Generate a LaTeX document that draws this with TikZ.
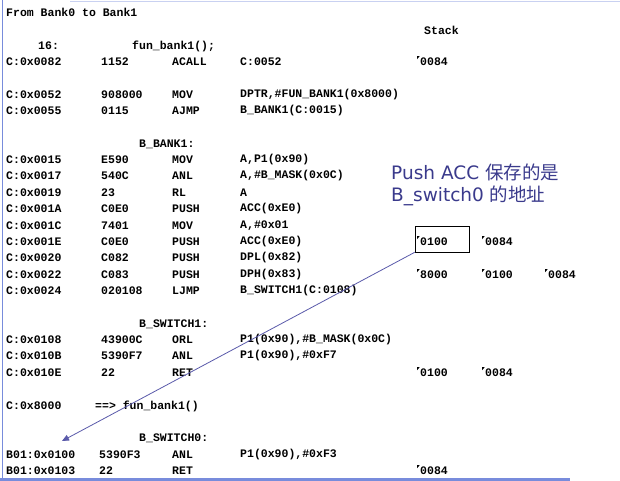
\documentclass[tikz,border=0pt]{standalone}
\usepackage{fontspec}
\setmonofont{Liberation Mono}
\newfontfamily\blufont{DejaVu Sans}
\newfontfamily\cjk{Noto Sans CJK SC}
\usetikzlibrary{arrows.meta}
\definecolor{notec}{RGB}{58,58,140}
\definecolor{arrc}{RGB}{90,90,170}
\definecolor{edge}{RGB}{120,140,220}
\tikzset{code/.style={anchor=west,inner sep=0pt,font=\ttfamily\bfseries\fontsize{11.5}{12}\selectfont},
 stk/.style={code,label={[inner sep=0pt,anchor=north west,xshift=-3pt,yshift=2pt]north west:{\tikz\fill (0,0)--(2.5pt,0)--(0,-3pt)--cycle;}}},
 note/.style={anchor=west,inner sep=0pt,text=notec,font=\blufont\fontsize{18.5}{21}\selectfont}}
\newcommand\crow[5]{\node[code] at (6,#1) {#2}; \node[code] at (101,#1) {#3}; \node[code] at (172,#1) {#4}; \node[code] at (240,#1) {#5};}
\begin{document}
\begin{tikzpicture}[x=1pt,y=-1pt]
\useasboundingbox (0,0) rectangle (620,481);
\fill[white] (0,0) rectangle (620,481);
\draw[edge!40,line width=1pt] (70,2) -- (620,2);
\draw[edge,line width=1pt] (2,0) -- (2,481);
\fill[edge] (0,478) rectangle (570,481);
\node[code] at (6,12) {From Bank0 to Bank1};
\node[code] at (424,30) {Stack};
\node[code] at (38,46) {16:};
\node[code] at (132,46) {fun\_bank1();};
\crow{62}{C:0x0082}{1152}{ACALL}{C:0052}
\crow{95}{C:0x0052}{908000}{MOV}{DPTR,\#FUN\_BANK1(0x8000)}
\crow{111}{C:0x0055}{0115}{AJMP}{B\_BANK1(C:0015)}
\node[code] at (139,144) {B\_BANK1:};
\crow{160}{C:0x0015}{E590}{MOV}{A,P1(0x90)}
\crow{176}{C:0x0017}{540C}{ANL}{A,\#B\_MASK(0x0C)}
\crow{193}{C:0x0019}{23}{RL}{A}
\crow{209}{C:0x001A}{C0E0}{PUSH}{ACC(0xE0)}
\crow{226}{C:0x001C}{7401}{MOV}{A,\#0x01}
\crow{242}{C:0x001E}{C0E0}{PUSH}{ACC(0xE0)}
\crow{258}{C:0x0020}{C082}{PUSH}{DPL(0x82)}
\crow{275}{C:0x0022}{C083}{PUSH}{DPH(0x83)}
\crow{291}{C:0x0024}{020108}{LJMP}{B\_SWITCH1(C:0108)}
\node[code] at (139,324) {B\_SWITCH1:};
\crow{340}{C:0x0108}{43900C}{ORL}{P1(0x90),\#B\_MASK(0x0C)}
\crow{356}{C:0x010B}{5390F7}{ANL}{P1(0x90),\#0xF7}
\crow{373}{C:0x010E}{22}{RET}{}
\node[code] at (6,406) {C:0x8000};
\node[code] at (95,406) {==> fun\_bank1()};
\node[code] at (139,438) {B\_SWITCH0:};
\node[code] (b01) at (6,455) {B01:0x0100};
\node[code] at (99,455) {5390F3};
\node[code] at (172,455) {ANL};
\node[code] at (240,455) {P1(0x90),\#0xF3};
\node[code] at (6,471) {B01:0x0103};
\node[code] at (99,471) {22};
\node[code] at (172,471) {RET};
% stack
\node[stk] at (420,62) {0084};
\node[stk] (s1) at (420,242) {0100};
\node[stk] at (485,242) {0084};
\node[stk] at (420,275) {8000};
\node[stk] at (485,275) {0100};
\node[stk] at (548,275) {0084};
\node[stk] at (420,373) {0100};
\node[stk] at (485,373) {0084};
\node[stk] at (420,471) {0084};
\node[draw=black,line width=0.6pt,minimum width=54pt,minimum height=26pt,inner sep=0pt] (box) at (442,239) {};
\node[note] at (391,172) {Push ACC {\cjk 保存的是}};
\node[note] at (391,196) {B\_switch0 {\cjk 的地址}};
\coordinate (tip) at (62,441);
\draw[arrc,line width=0.8pt,-{Triangle[length=7pt,width=6pt]}] (box.south west) -- (tip);
\end{tikzpicture}
\end{document}
